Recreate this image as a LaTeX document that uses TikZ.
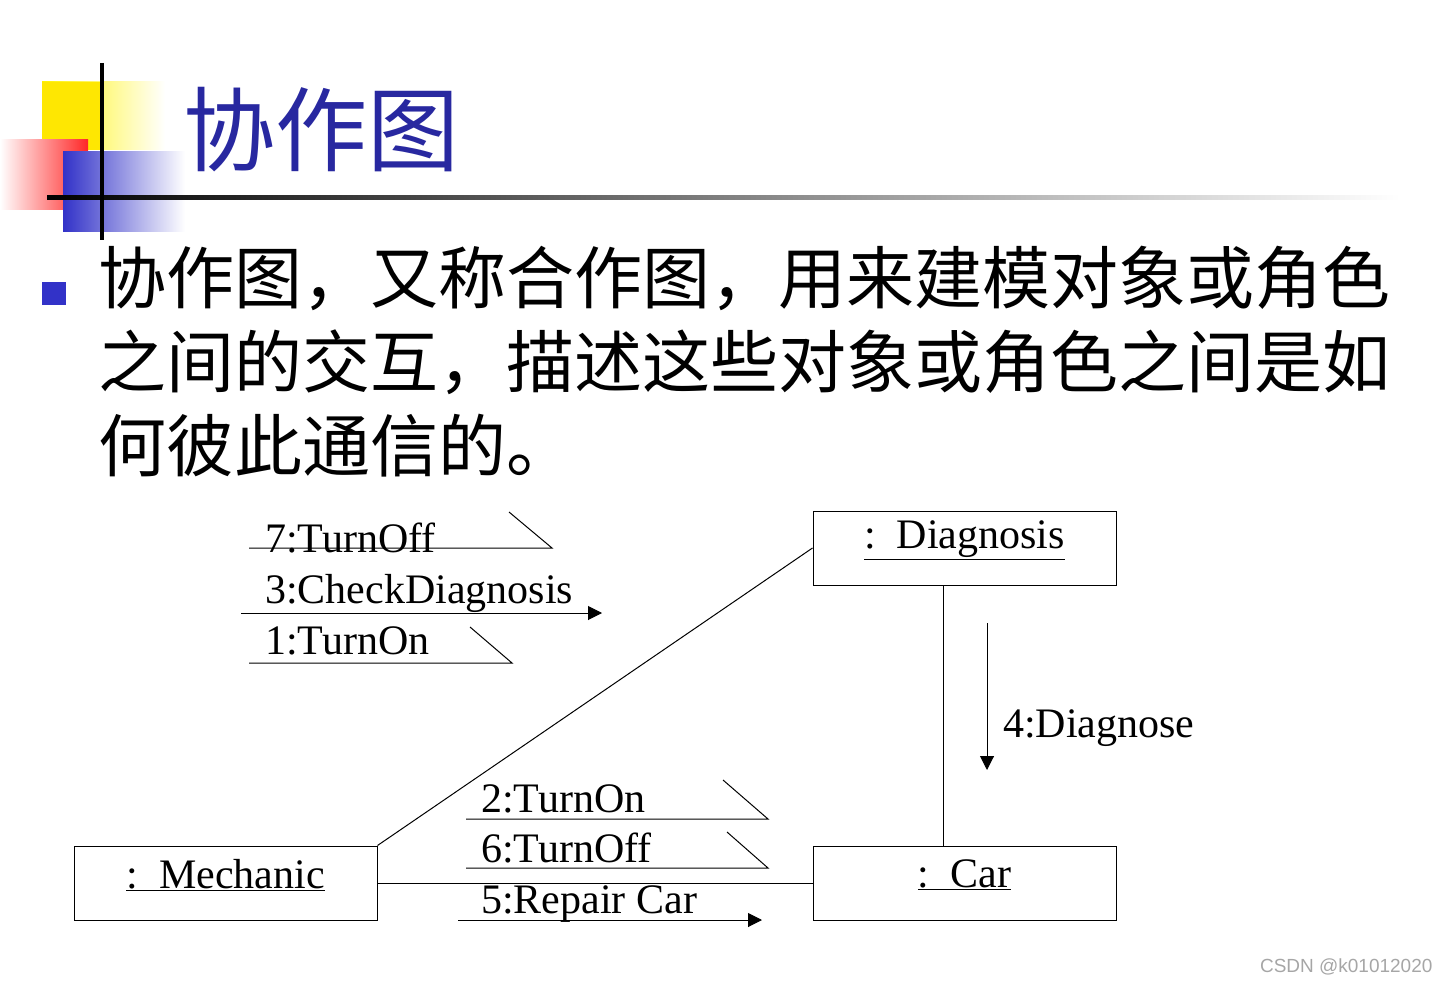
\documentclass[tikz,border=0pt]{standalone}
\usepackage{fontspec}
\setmainfont{Liberation Serif}
\newfontfamily\cjk{Noto Sans CJK SC}
\newfontfamily\wmfont{Liberation Sans}
\usetikzlibrary{arrows.meta}
\definecolor{titleblue}{RGB}{40,40,160}
\definecolor{bulletblue}{RGB}{50,50,200}
\begin{document}
\begin{tikzpicture}[x=1pt,y=-1pt,
  objbox/.style={draw, line width=1pt, minimum width=303pt, minimum height=74pt, inner sep=0pt},
  objlabel/.style={font=\fontsize{42}{42}\selectfont},
  msg/.style={anchor=base west, inner sep=0pt, font=\fontsize{42}{42}\selectfont},
  msgline/.style={line width=1pt},
  filledarrow/.style={line width=1pt, -{Triangle[length=14pt,width=14pt]}}]
  \useasboundingbox (0,0) rectangle (1451,984);
  % title decoration
  \shade[left color=yellow!90!orange, right color=white] (42,82) rectangle (165,150);
  \fill[yellow!90!orange] (42,82) rectangle (100,150);
  \shade[left color=white, right color=red!85] (0,140) rectangle (88,210);
  \shade[left color=bulletblue, right color=white] (63,152) rectangle (185,232);
  \shade[left color=black, right color=white] (47,196) rectangle (1400,200);
  \draw[line width=4pt] (102,63) -- (102,240);
  \node[anchor=west, inner sep=0pt, text=titleblue, font=\cjk\fontsize{92}{92}\selectfont] (title) at (183,130) {协作图};
  % bullet text
  \fill[bulletblue] (42,282) rectangle (66,305);
  \node[anchor=north west, inner sep=0pt, align=left, font=\cjk\fontsize{68}{84}\selectfont] (body) at (98,246)
    {协作图，又称合作图，用来建模对象或角色\\之间的交互，描述这些对象或角色之间是如\\何彼此通信的。};
  % objects
  \node[objbox] (diag) at (964.5,548) {};
  \node[objbox] (mech) at (225.5,883) {};
  \node[objbox] (car) at (964.5,883) {};
  \node[objlabel] at ([yshift=8pt]diag) {\underline{:\ \ Diagnosis}};
  \node[objlabel] at ([yshift=8pt]mech) {\underline{:\ \ Mechanic}};
  \node[objlabel] at ([yshift=8pt]car) {\underline{:\ \ Car}};
  % links
  \draw[line width=1pt] (mech.north east) -- (diag.west);
  \draw[line width=1pt] (mech.east) -- (car.west);
  \draw[line width=1pt] ([xshift=-21.5pt]diag.south) -- ([xshift=-21.5pt]car.north);
  % message 4
  \coordinate (d1) at (987,623);
  \coordinate (d2) at (987,770);
  \draw[filledarrow] (d1) -- (d2);
  \node[msg] (m4) at (1003,737) {4:Diagnose};
  % messages between mechanic and diagnosis
  \node[msg] (m7) at (265,552) {7:TurnOff};
  \node[msg] (m3) at (265,603) {3:CheckDiagnosis};
  \node[msg] (m1) at (265,654) {1:TurnOn};
  \draw[msgline] (249,548) -- (552,548) -- (509,512);
  \draw[filledarrow] (241,613) -- (602,613);
  \draw[msgline] (249,663) -- (512,663) -- (470,627);
  % messages between mechanic and car
  \node[msg] (m2) at (481,812) {2:TurnOn};
  \node[msg] (m6) at (481,862) {6:TurnOff};
  \node[msg] (m5) at (481,913) {5:Repair Car};
  \draw[msgline] (466,819) -- (768,819) -- (723,780);
  \draw[msgline] (466,868) -- (768,868) -- (727,832);
  \draw[filledarrow] (458,920) -- (762,920);
  % watermark
  \node[anchor=east, text=gray!70, font=\wmfont\fontsize{19}{19}\selectfont] (wm) at (1436,967) {CSDN @k01012020};
\end{tikzpicture}
\end{document}
